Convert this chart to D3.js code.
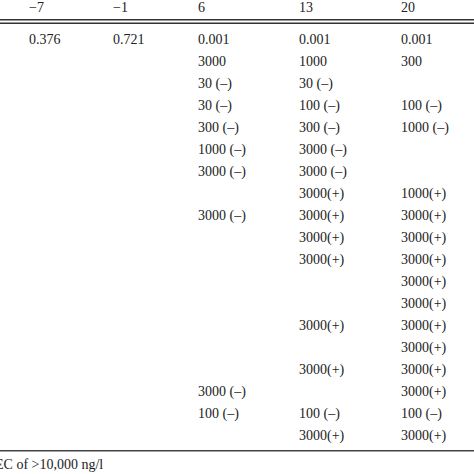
<!DOCTYPE html>
<html><head><meta charset="utf-8">
<script src="https://cdn.jsdelivr.net/npm/d3@7"></script>
<style>body{margin:0;background:#fff}</style>
</head><body><div id="chart"></div>
<script>
// encabezados (días)
const headers = ["\u22127", "\u22121", "6", "13", "20"]
const colD7 = ["0.376"]
const colD1 = ["0.721"]
const col6 = ["0.001","3000","30 (\u2013)","30 (\u2013)","300 (\u2013)","1000 (\u2013)","3000 (\u2013)","","3000 (\u2013)","","","","","","","","3000 (\u2013)","100 (\u2013)",""]
const col13 = ["0.001","1000","30 (\u2013)","100 (\u2013)","300 (\u2013)","3000 (\u2013)","3000 (\u2013)","3000(+)","3000(+)","3000(+)","3000(+)","","","3000(+)","","3000(+)","","100 (\u2013)","3000(+)"]
const col20 = ["0.001","300","","100 (\u2013)","1000 (\u2013)","","","1000(+)","3000(+)","3000(+)","3000(+)","3000(+)","3000(+)","3000(+)","3000(+)","3000(+)","3000(+)","100 (\u2013)","3000(+)"]
const footnote = "EC of >10,000 ng/l"

const columns = [colD7, colD1, col6, col13, col20]
const W = 474, H = 474
const svg = d3.select('#chart').append('svg').attr('width', W).attr('height', H)
  .style('font-family', '"Times New Roman", Tinos, "Liberation Serif", serif').style('font-size', '14px').attr('fill', '#222')

const x = d3.scaleOrdinal().domain(d3.range(5)).range([29, 113, 198, 299, 401])
const y = d3.scaleLinear().domain([0, 18]).range([44, 440])

svg.selectAll('text.h').data(headers).join('text')
  .attr('x', (d, i) => x(i)).attr('y', 12).text(d => d)

svg.append('rect').attr('x', 0).attr('y', 19).attr('width', W).attr('height', 1.5).attr('fill', '#333')
svg.append('rect').attr('x', 0).attr('y', 22.5).attr('width', W).attr('height', 1.5).attr('fill', '#333')

columns.forEach((col, i) => {
  svg.selectAll(null).data(col).join('text')
    .attr('x', x(i)).attr('y', (d, j) => y(j)).text(d => d)
})

svg.append('rect').attr('x', 0).attr('y', 450).attr('width', W).attr('height', 1.5).attr('fill', '#444')
// la nota al pie está cortada en el original
svg.append('text').attr('x', -5).attr('y', 469).text(footnote)
</script></body></html>
